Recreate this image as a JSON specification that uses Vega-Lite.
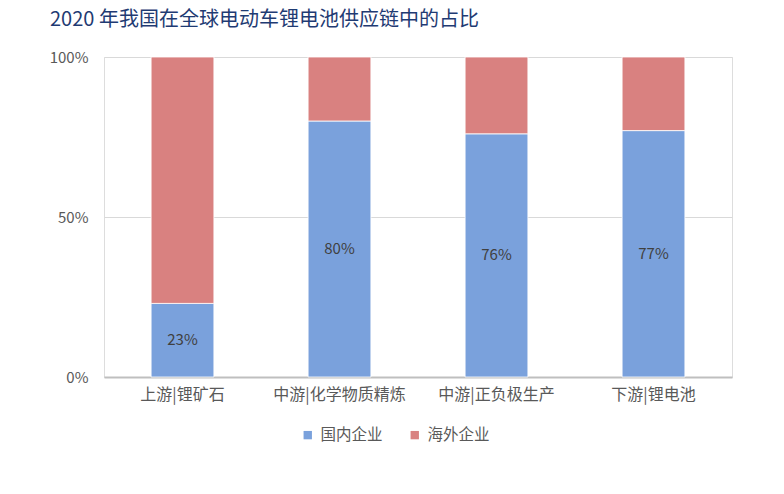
{
  "$schema": "https://vega.github.io/schema/vega-lite/v6.json",
  "width": 628,
  "height": 320,
  "autosize": {"type": "none"},
  "padding": {"left": 104, "top": 57, "right": 52, "bottom": 117},
  "background": "white",
  "title": {
    "text": "2020 年我国在全球电动车锂电池供应链中的占比",
    "anchor": "start",
    "frame": "group",
    "dx": -54,
    "offset": 20,
    "font": "Noto Sans CJK SC",
    "fontSize": 20,
    "fontWeight": "normal",
    "color": "#1f3b73"
  },
  "data": {
    "values": [
      {"stage": "上游|锂矿石", "company": "国内企业", "share": 0.23},
      {"stage": "上游|锂矿石", "company": "海外企业", "share": 0.77},
      {"stage": "中游|化学物质精炼", "company": "国内企业", "share": 0.80},
      {"stage": "中游|化学物质精炼", "company": "海外企业", "share": 0.20},
      {"stage": "中游|正负极生产", "company": "国内企业", "share": 0.76},
      {"stage": "中游|正负极生产", "company": "海外企业", "share": 0.24},
      {"stage": "下游|锂电池", "company": "国内企业", "share": 0.77},
      {"stage": "下游|锂电池", "company": "海外企业", "share": 0.23}
    ]
  },
  "encoding": {
    "x": {
      "field": "stage",
      "type": "nominal",
      "sort": null,
      "scale": {"paddingInner": 0.6, "paddingOuter": 0.3},
      "axis": {
        "title": null,
        "labelAngle": 0,
        "labelFont": "Noto Sans CJK SC",
        "labelFontSize": 16,
        "labelColor": "#595959",
        "labelPadding": 9,
        "ticks": false,
        "domainColor": "#bfbfbf",
        "domainWidth": 2
      }
    }
  },
  "layer": [
    {
      "mark": {"type": "bar", "stroke": "white", "strokeWidth": 0.8},
      "encoding": {
        "y": {
          "field": "share",
          "type": "quantitative",
          "stack": "zero",
          "scale": {"domain": [0, 1]},
          "axis": {
            "title": null,
            "values": [0, 0.5, 1],
            "format": ".0%",
            "labelFont": "Noto Sans CJK SC",
            "labelFontSize": 15,
            "labelColor": "#595959",
            "labelPadding": 16,
            "ticks": false,
            "domain": false,
            "gridColor": "#d9d9d9",
            "gridWidth": 1
          }
        },
        "order": {"field": "company", "sort": "ascending"},
        "color": {
          "field": "company",
          "type": "nominal",
          "scale": {"domain": ["国内企业", "海外企业"], "range": ["#7aa1dc", "#d98180"]},
          "legend": {
            "title": null,
            "orient": "none",
            "direction": "horizontal",
            "legendX": 196,
            "legendY": 370,
            "symbolType": "square",
            "symbolSize": 70,
            "symbolStrokeWidth": 0,
            "labelFont": "Noto Sans CJK SC",
            "labelFontSize": 15.5,
            "labelColor": "#595959",
            "columnPadding": 24,
            "labelOffset": 5
          }
        }
      }
    },
    {
      "transform": [{"filter": "datum.company === '国内企业'"}],
      "mark": {"type": "text", "font": "Noto Sans CJK SC", "fontSize": 15, "color": "#404040", "baseline": "middle"},
      "encoding": {
        "y": {"field": "share", "type": "quantitative", "scale": {"domain": [0, 2]}, "axis": null},
        "text": {"field": "share", "type": "quantitative", "format": ".0%"}
      }
    }
  ],
  "resolve": {"scale": {"y": "independent"}}
}
